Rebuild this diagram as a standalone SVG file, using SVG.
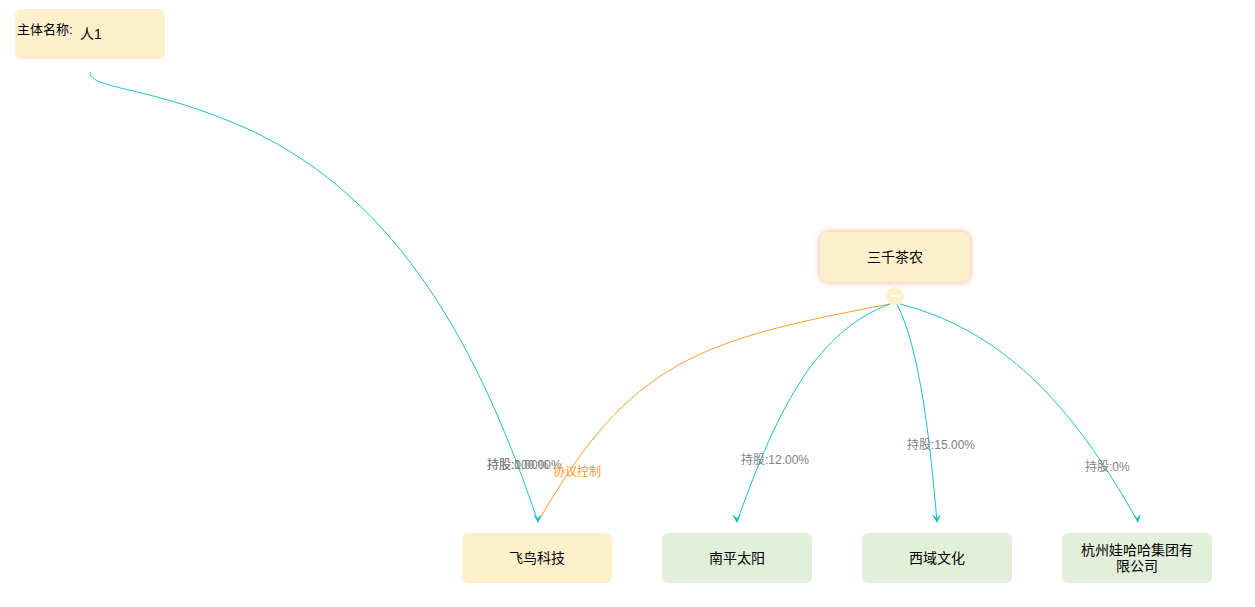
<svg xmlns="http://www.w3.org/2000/svg" width="1255" height="607" viewBox="0 0 1255 607">
<style>
text{font-family:"Liberation Sans","Noto Sans CJK SC",sans-serif}
.n{font-size:14px;fill:#000;text-anchor:middle}
.l{font-size:12px;fill:#808080}
.c{fill:none;stroke:#1ec1c1;stroke-width:1}
</style>
<defs>
<marker id="a" markerWidth="10" markerHeight="10" refX="5" refY="8" orient="auto-start-reverse" markerUnits="userSpaceOnUse" viewBox="0 0 10 10"><path d="M1,2 L5,9 L9,2 L5,5 Z" fill="#1ec1c1" transform="rotate(0)"/></marker>
<marker id="o" markerWidth="10" markerHeight="10" refX="5" refY="8" orient="auto" markerUnits="userSpaceOnUse" viewBox="0 0 10 10"><path d="M1,2 L5,9 L9,2 L5,5 Z" fill="#ff9a2e"/></marker>
<filter id="g" x="-20%" y="-30%" width="140%" height="160%"><feDropShadow dx="0" dy="0" stdDeviation="3" flood-color="#ff9a6e" flood-opacity="0.9"/></filter>
</defs>
<rect width="1255" height="607" fill="#fff"/>
<g id="edges">
<path class="c" d="M90,72 C90,90 150,85 250,130 C400,200 480,350 538,522" style="marker-end:none"/>
<path d="M890,304 C700,340 630,360 538,522" fill="none" stroke="#ff9a2e"/>
<path class="c" d="M890,304 C820,330 780,400 737,522"/>
<path class="c" d="M897,304 C920,350 930,440 937,522"/>
<path class="c" d="M900,304 C1000,330 1070,400 1138,522"/>
<path d="M533,514 L538,523 L542,514 L538,518Z" fill="#1ec1c1"/>
<path d="M732,514 L737,523 L741,514 L737,518Z" fill="#1ec1c1"/>
<path d="M932,514 L937,523 L941,514 L937,518Z" fill="#1ec1c1"/>
<path d="M1133,514 L1138,523 L1141,514 L1137,518Z" fill="#1ec1c1"/>
<text class="l" x="487" y="469">持股:100.00%</text>
<text class="l" x="487" y="469">持股:0.00%</text>
<text x="553" y="476" style="font-size:12px;fill:#ff9a2e">协议控制</text>
<text class="l" x="741" y="464">持股:12.00%</text>
<text class="l" x="907" y="449">持股:15.00%</text>
<text class="l" x="1085" y="471">持股:0%</text>
</g>
<g id="n0"><rect x="15" y="9" width="150" height="50" rx="6" fill="#fff0cc"/><text x="17" y="34" style="font-size:13px">主体名称:</text><text x="80" y="39" style="font-size:14px">人1</text></g>
<g id="n1"><rect x="820" y="232" width="150" height="50" rx="8" fill="#fff0cc" filter="url(#g)"/><text class="n" x="895" y="262">三千茶农</text>
<circle cx="895" cy="296" r="9" fill="#fff0cc"/><line x1="890" y1="296" x2="900" y2="296" stroke="#fff" stroke-width="1.5"/></g>
<g id="n2"><rect x="462" y="533" width="150" height="50" rx="6" fill="#fff0cc"/><text class="n" x="537" y="563">飞鸟科技</text></g>
<g id="n3"><rect x="662" y="533" width="150" height="50" rx="6" fill="#e2efd9"/><text class="n" x="737" y="563">南平太阳</text></g>
<g id="n4"><rect x="862" y="533" width="150" height="50" rx="6" fill="#e2efd9"/><text class="n" x="937" y="563">西域文化</text></g>
<g id="n5"><rect x="1062" y="533" width="150" height="50" rx="6" fill="#e2efd9"/><text class="n" x="1137" y="555">杭州娃哈哈集团有</text><text class="n" x="1137" y="571">限公司</text></g>
</svg>
